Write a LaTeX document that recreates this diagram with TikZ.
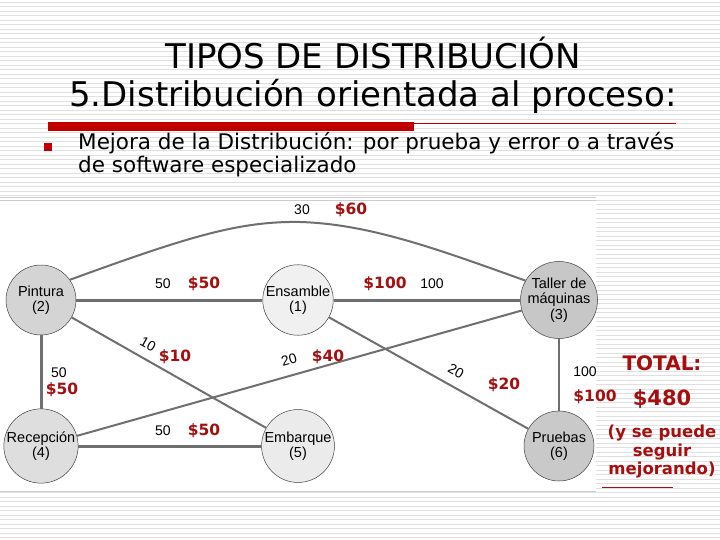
\documentclass[tikz,border=0pt]{standalone}
\usepackage{fontspec}
\setmainfont{Liberation Sans}
\newfontfamily\slidefont{DejaVu Sans}
\usetikzlibrary{calc,positioning}
\definecolor{slidered}{HTML}{A50F0F}
\definecolor{barred}{HTML}{C00000}
\definecolor{edgegray}{HTML}{6F6F6F}

\begin{document}
\begin{tikzpicture}[x=1pt,y=-1pt,
  st/.style={circle,draw=black!75,line width=.5pt,minimum size=70pt,inner sep=0pt,align=center,font=\fontsize{14.5}{15.5}\selectfont},
  lnk/.style={edgegray,line width=2pt},
  wide/.style={edgegray,line width=3pt},
  num/.style={font=\fontsize{14}{14}\selectfont,inner sep=0pt},
  price/.style={text=slidered,font=\slidefont\bfseries\fontsize{15.5}{16}\selectfont,inner sep=0pt}]
  \useasboundingbox (0,0) rectangle (720,540);
  % background of the slide
  \fill[white] (0,0) rectangle (720,540);
  \foreach \y in {2,6.5,...,540}
    \draw[black!12,line width=.6pt] (0,\y) -- (720,\y);
  \fill[white] (0,201) rectangle (596,491);
  \draw[black!20,line width=.8pt] (0,197) -- (596,197) (0,200.5) -- (596,200.5);
  \draw[black!20,line width=.8pt] (0,491.5) -- (596,491.5);

  % title
  \node[font=\slidefont\fontsize{34}{38}\selectfont,align=center,inner sep=0pt] (title) at (373,75)
    {TIPOS DE DISTRIBUCIÓN\\5.Distribución orientada al proceso:};
  \fill[barred] (48,122) rectangle (414,131);
  \draw[barred,line width=.8pt] (414,123) -- (676,123);
  \fill[barred] (44,143) rectangle (52,151);
  \node[font=\slidefont\fontsize{21.5}{23}\selectfont,align=left,anchor=north west,inner sep=0pt] (txt) at (78,132)
    {Mejora de la Distribución: por prueba y error o a través\\de software especializado};

  % stations
  \node[st,fill=black!17] (s2) at (41,300) {Pintura\\(2)};
  \node[st,fill=black!6]  (s1) at (298,300) {Ensamble\\(1)};
  \node[st,fill=black!22] (s3) at (559,300) {Taller de\\máquinas\\(3)};
  \node[st,fill=black!13] (s4) at (41,446) {Recepción\\(4)};
  \node[st,fill=black!8]  (s5) at (298,446) {Embarque\\(5)};
  \node[st,fill=black!21] (s6) at (559,446) {Pruebas\\(6)};

  % links
  \coordinate (top) at (300,222);
  \draw[lnk] (s2.35) .. controls (190,236) and (240,221) .. (top)
    .. controls (370,224) and (440,250) .. (s3.150);
  \draw[wide] (s2) -- (s1);
  \draw[wide] (s1) -- (s3);
  \draw[wide] (s2) -- (s4);
  \draw[wide] (s4) -- (s5);
  \draw[lnk] (s2) -- (s5);
  \draw[lnk] (s4) -- (s3);
  \draw[lnk] (s1) -- (s6);
  \draw[lnk] (s3) -- (s6);

  % loads and costs
  \node[num] (n23) at (302,210) {30};
  \node[price] (p23) at (351,210) {\$60};
  \node[num] (n21) at (163,284) {50};
  \node[price] (p21) at (204,284) {\$50};
  \node[price] (p13) at (385,284) {\$100};
  \node[num] (n13) at (432,284) {100};
  \node[num,rotate=-29] (n25) at (148,344) {10};
  \node[price] (p25) at (175,357) {\$10};
  \node[num] (n24) at (59,373) {50};
  \node[price] (p24) at (62,390) {\$50};
  \node[num,rotate=16] (n43) at (289,360) {20};
  \node[price] (p43) at (328,357) {\$40};
  \node[num,rotate=-29] (n16) at (456,371) {20};
  \node[price] (p16) at (504,385) {\$20};
  \node[num] (n36) at (585,372) {100};
  \node[price] (p36) at (595,397) {\$100};
  \node[num] (n45) at (163,431) {50};
  \node[price] (p45) at (204,431) {\$50};

  % total
  \node[price,font=\slidefont\bfseries\fontsize{20}{20}\selectfont] (tot) at (662,363) {TOTAL:};
  \node[price,font=\slidefont\bfseries\fontsize{21}{21}\selectfont] (sum) at (662,399) {\$480};
  \node[price,font=\slidefont\bfseries\fontsize{16.5}{18.5}\selectfont,align=center] (more) at (662,452)
    {(y se puede\\seguir\\mejorando)};
  \draw[slidered,line width=.9pt] (602,487) -- (673,487);
\end{tikzpicture}
\end{document}
